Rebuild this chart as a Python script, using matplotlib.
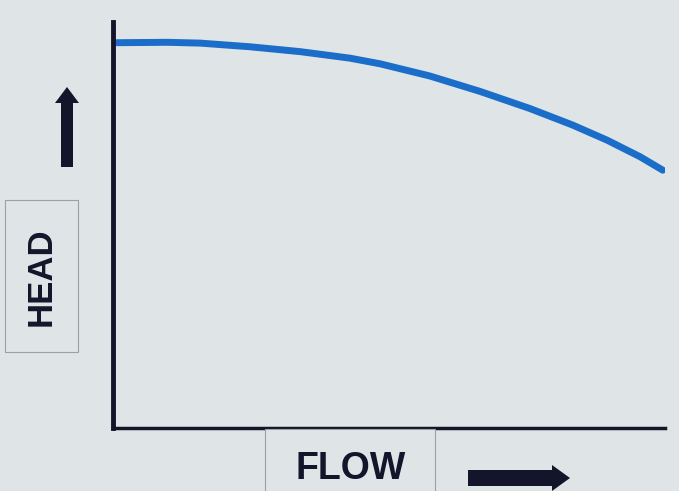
import matplotlib.pyplot as plt
from matplotlib.patches import Rectangle, Polygon

# pump curve (flow / head in % of axis)
flow = [0.7, 9.8, 15.8, 24.8, 33.9, 42.9, 48.4, 57.4, 66.5, 75.5, 83.3, 89.5, 95.5, 99.6]
head = [94.9, 95.0, 94.8, 93.9, 92.7, 91.1, 89.7, 86.7, 82.9, 78.7, 74.6, 70.9, 66.8, 63.5]

x_label = "FLOW"
y_label = "HEAD"

bg = '#dfe4e7'
ink = '#14142a'
W, H = 679, 491

fig = plt.figure(figsize=(W / 100, H / 100), dpi=100)
fig.patch.set_facecolor(bg)

ax = fig.add_axes([113 / W, (H - 428) / H, 552 / W, 406 / H])
ax.set_facecolor(bg)
ax.plot(flow, head, color='#1a6dc8', lw=5, solid_capstyle='round',
        solid_joinstyle='round')
ax.set_xlim(0, 100)
ax.set_ylim(0, 100)
ax.set_xticks([])
ax.set_yticks([])
for side in ['top', 'right']:
    ax.spines[side].set_visible(False)
ax.spines['left'].set_linewidth(3.5)
ax.spines['bottom'].set_linewidth(2.5)
ax.spines['left'].set_color(ink)
ax.spines['bottom'].set_color(ink)


# helpers working in image pixels (origin top-left)
def fx(px):
    return px / W


def fy(py):
    return 1 - py / H


def px_box(x0, y0, x1, y1):
    r = Rectangle((fx(x0), fy(y1)), (x1 - x0) / W, (y1 - y0) / H,
                  transform=fig.transFigure, facecolor=bg,
                  edgecolor='#9aa0a4', lw=0.8, zorder=5)
    fig.add_artist(r)


def px_poly(pts):
    p = Polygon([(fx(a), fy(b)) for a, b in pts], closed=True,
                transform=fig.transFigure, facecolor=ink, edgecolor='none', zorder=6)
    fig.add_artist(p)


px_box(5, 200, 78, 352)
px_box(265, 429, 435, 495)

fig.text(fx(41), fy(277), y_label, rotation=90, ha='center', va='center',
         fontsize=25, fontweight='bold', family='Liberation Sans',
         color=ink, zorder=6)
fig.text(fx(351), fy(469), x_label, ha='center', va='center',
         fontsize=27, fontweight='bold', family='Liberation Sans',
         color=ink, zorder=6)

# up arrow: x=67, tail 167, tip 87
cx, sw, hw, tip, base, tail = 67, 6, 12, 87, 103, 167
px_poly([(cx - sw, tail), (cx - sw, base), (cx - hw, base), (cx, tip),
         (cx + hw, base), (cx + sw, base), (cx + sw, tail)])

# right arrow: y=478, tail 468, tip 570
cy, sw, hw, tip, base, tail = 478, 8, 13, 570, 552, 468
px_poly([(tail, cy - sw), (base, cy - sw), (base, cy - hw), (tip, cy),
         (base, cy + hw), (base, cy + sw), (tail, cy + sw)])

fig.savefig('out.png', dpi=100, facecolor=bg)
